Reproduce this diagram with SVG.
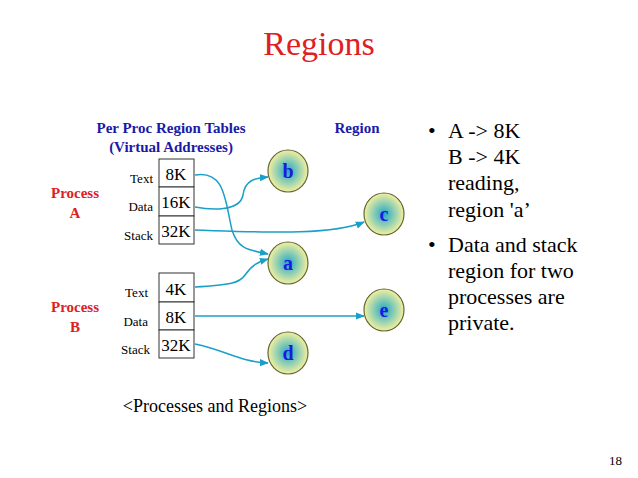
<svg xmlns="http://www.w3.org/2000/svg" width="638" height="478" viewBox="0 0 638 478">
<style>
.t{font-family:"Liberation Serif",serif}
.blue{fill:#1a1aa8;font-weight:bold;font-size:15px;font-family:"Liberation Serif",serif}
.red{fill:#e02020;font-weight:bold;font-size:15px;font-family:"Liberation Serif",serif}
.lab{font-size:13px;font-family:"Liberation Serif",serif;fill:#000}
.cell{fill:#fff;stroke:#333;stroke-width:1}
.val{font-size:17px;font-family:"Liberation Serif",serif;fill:#000}
.reg{fill:url(#rg);stroke:#666633;stroke-width:1.2}
.rl{fill:#1a1ae0;font-weight:bold;font-size:20px;font-family:"Liberation Serif",serif}
.c{fill:none;stroke:#1a9fc8;stroke-width:1.5;marker-end:url(#ar)}
</style>
<defs>
<radialGradient id="rg"><stop offset="0" stop-color="#20a8c8"/><stop offset="1" stop-color="#f2f0a0"/></radialGradient>
<marker id="ar" viewBox="0 0 10 10" refX="9" refY="5" markerWidth="6" markerHeight="6" orient="auto"><path d="M0,1 L10,5 L0,9 z" fill="#1a9fc8"/></marker>
</defs>
<rect width="638" height="478" fill="#fff"/>
<text x="319" y="55" text-anchor="middle" class="t" font-size="34" fill="#e02020">Regions</text>
<text x="171" y="133" text-anchor="middle" class="blue">Per Proc Region Tables</text>
<text x="171" y="152" text-anchor="middle" class="blue">(Virtual Addresses)</text>
<text x="357" y="133" text-anchor="middle" class="blue">Region</text>
<g id="procA">
<text x="75" y="198" text-anchor="middle" class="red">Process</text>
<text x="75" y="218" text-anchor="middle" class="red">A</text>
<rect x="159" y="159" width="35" height="28" class="cell"/><rect x="159" y="187" width="35" height="29" class="cell"/><rect x="159" y="216" width="35" height="28" class="cell"/>
<text x="153" y="183" text-anchor="end" class="lab">Text</text><text x="153" y="211" text-anchor="end" class="lab">Data</text><text x="153" y="240" text-anchor="end" class="lab">Stack</text>
<text x="176" y="180" text-anchor="middle" class="val">8K</text><text x="176" y="208" text-anchor="middle" class="val">16K</text><text x="176" y="237" text-anchor="middle" class="val">32K</text>
</g>
<g id="procB">
<text x="75" y="312" text-anchor="middle" class="red">Process</text>
<text x="75" y="332" text-anchor="middle" class="red">B</text>
<rect x="159" y="273" width="35" height="29" class="cell"/><rect x="159" y="302" width="35" height="28" class="cell"/><rect x="159" y="330" width="35" height="28" class="cell"/>
<text x="148" y="297" text-anchor="end" class="lab">Text</text><text x="148" y="326" text-anchor="end" class="lab">Data</text><text x="150" y="354" text-anchor="end" class="lab">Stack</text>
<text x="176" y="295" text-anchor="middle" class="val">4K</text><text x="176" y="323" text-anchor="middle" class="val">8K</text><text x="176" y="351" text-anchor="middle" class="val">32K</text>
</g>
<g id="b"><ellipse cx="288" cy="171" rx="20" ry="21" class="reg"/><text x="288" y="178" text-anchor="middle" class="rl">b</text></g>
<g id="c"><ellipse cx="384" cy="214" rx="20" ry="21" class="reg"/><text x="384" y="221" text-anchor="middle" class="rl">c</text></g>
<g id="a"><ellipse cx="288" cy="263" rx="20" ry="21" class="reg"/><text x="288" y="270" text-anchor="middle" class="rl">a</text></g>
<g id="e"><ellipse cx="384" cy="310" rx="20" ry="21" class="reg"/><text x="384" y="317" text-anchor="middle" class="rl">e</text></g>
<g id="d"><ellipse cx="288" cy="353" rx="20" ry="21" class="reg"/><text x="288" y="360" text-anchor="middle" class="rl">d</text></g>
<g id="connectors">
<path class="c" d="M195,175 C225,170 225,200 232,230 C238,250 250,250 268,254"/>
<path class="c" d="M195,207 C210,210 240,212 243,195 C245,180 255,178 268,177"/>
<path class="c" d="M195,230 C260,232 330,236 364,222"/>
<path class="c" d="M195,287 C230,285 240,283 245,275 C252,265 258,262 268,259"/>
<path class="c" d="M195,316 L364,316"/>
<path class="c" d="M195,344 C225,350 240,362 268,363"/>
</g>
<text x="215" y="412" text-anchor="middle" class="t" font-size="18">&lt;Processes and Regions&gt;</text>
<g id="bullets" font-family="'Liberation Serif', serif" font-size="22" fill="#000">
<text x="428" y="138" font-family="'Liberation Serif', serif">•</text><text x="448" y="138" font-family="'Liberation Serif', serif">A -&gt; 8K</text>
<text x="448" y="164" font-family="'Liberation Serif', serif">B -&gt; 4K</text>
<text x="448" y="190" font-family="'Liberation Serif', serif">reading,</text>
<text x="448" y="217" font-family="'Liberation Serif', serif">region 'a’</text>
<text x="428" y="252" font-family="'Liberation Serif', serif">•</text><text x="448" y="252" font-family="'Liberation Serif', serif">Data and stack</text>
<text x="448" y="278" font-family="'Liberation Serif', serif">region for two</text>
<text x="448" y="304" font-family="'Liberation Serif', serif">processes are</text>
<text x="448" y="330" font-family="'Liberation Serif', serif">private.</text>
</g>
<text x="622" y="465" text-anchor="end" class="t" font-size="13">18</text>
</svg>
